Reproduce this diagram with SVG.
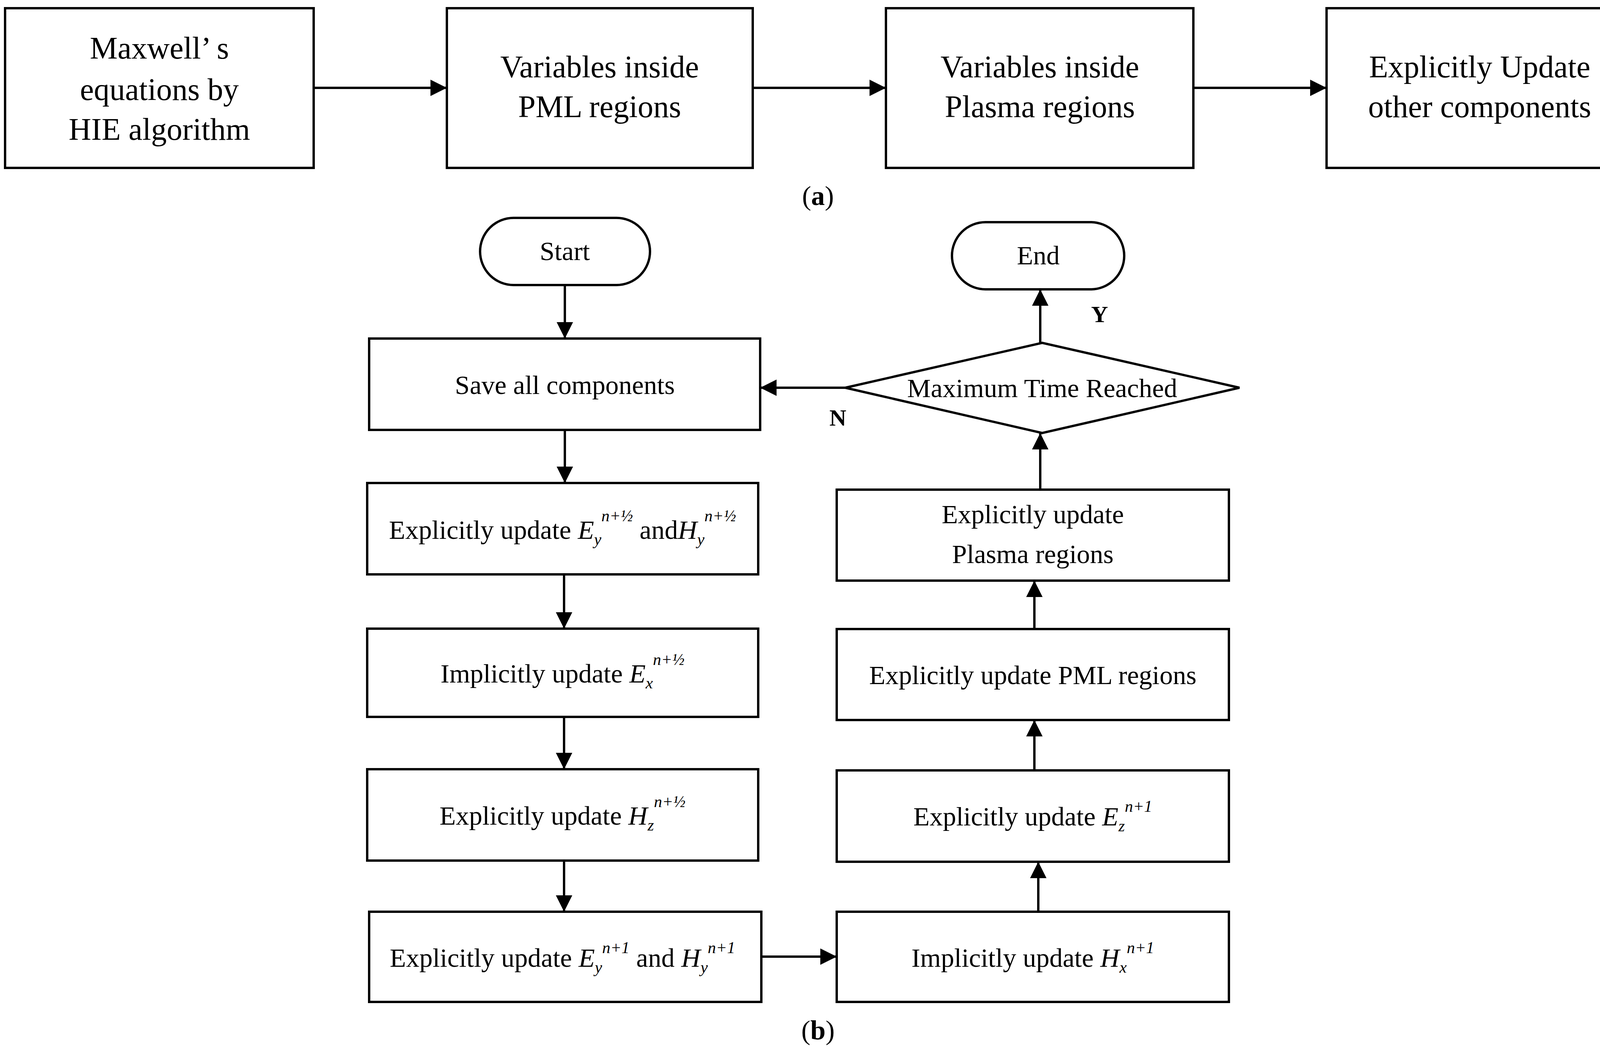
<svg xmlns="http://www.w3.org/2000/svg" width="4193" height="2684" viewBox="0 0 4193 2684">
<defs>
<marker id="a" viewBox="0 0 10 10" refX="10" refY="5" markerWidth="8" markerHeight="7" orient="auto"><path d="M0,0 L10,5 L0,10 z" fill="#000"/></marker>
</defs>
<style>
.b{fill:#fff;stroke:#000;stroke-width:6}
.t{font-family:"Liberation Serif",serif;fill:#000;text-anchor:middle}
.l{font-size:80px}
.s{font-size:68px}
.i{font-style:italic}
.sup{font-size:42px;font-style:italic}
.c{stroke:#000;stroke-width:6;fill:none;marker-end:url(#a)}
</style>
<rect width="4193" height="2684" fill="#fff"/>
<g id="a1"><rect class="b" x="13" y="21" width="790" height="409"/><text class="t l" x="408" y="150">Maxwell’ s</text><text class="t l" x="408" y="256">equations by</text><text class="t l" x="408" y="358">HIE algorithm</text></g>
<g id="a2"><rect class="b" x="1144" y="21" width="783" height="409"/><text class="t l" x="1535" y="198">Variables inside</text><text class="t l" x="1535" y="300">PML regions</text></g>
<g id="a3"><rect class="b" x="2268" y="21" width="787" height="409"/><text class="t l" x="2662" y="198">Variables inside</text><text class="t l" x="2662" y="300">Plasma regions</text></g>
<g id="a4"><rect class="b" x="3396" y="21" width="784" height="409"/><text class="t l" x="3788" y="198">Explicitly Update</text><text class="t l" x="3788" y="300">other components</text></g>
<text class="t" x="2094" y="525" font-size="70">(<tspan font-weight="bold">a</tspan>)</text>
<g id="start"><rect class="b" x="1229" y="558" width="435" height="172" rx="86"/><text class="t s" x="1446" y="666">Start</text></g>
<g id="end"><rect class="b" x="2437" y="569" width="441" height="172" rx="86"/><text class="t s" x="2658" y="677">End</text></g>
<g id="save"><rect class="b" x="945" y="867" width="1001" height="234"/><text class="t s" x="1446" y="1009">Save all components</text></g>
<g id="dec"><polygon class="b" points="2164,993 2668,878 3173,993 2668,1109"/><text class="t s" x="2668" y="1017">Maximum Time Reached</text></g>
<g id="b2"><rect class="b" x="940" y="1237" width="1001" height="234"/><text class="t s" x="1440" y="1380">Explicitly update <tspan class="i">E</tspan><tspan font-size="42" class="i" dy="15">y</tspan><tspan class="sup" dy="-60">n+½</tspan><tspan dy="45"> and</tspan><tspan class="i">H</tspan><tspan font-size="42" class="i" dy="15">y</tspan><tspan class="sup" dy="-60">n+½</tspan></text></g>
<g id="b3"><rect class="b" x="940" y="1610" width="1001" height="226"/><text class="t s" x="1440" y="1748">Implicitly update <tspan class="i">E</tspan><tspan font-size="42" class="i" dy="15">x</tspan><tspan class="sup" dy="-60">n+½</tspan></text></g>
<g id="b4"><rect class="b" x="940" y="1970" width="1001" height="234"/><text class="t s" x="1440" y="2112">Explicitly update <tspan class="i">H</tspan><tspan font-size="42" class="i" dy="15">z</tspan><tspan class="sup" dy="-60">n+½</tspan></text></g>
<g id="b5"><rect class="b" x="945" y="2335" width="1004" height="231"/><text class="t s" x="1440" y="2476">Explicitly update <tspan class="i">E</tspan><tspan font-size="42" class="i" dy="15">y</tspan><tspan class="sup" dy="-50">n+1</tspan><tspan dy="35"> and </tspan><tspan class="i">H</tspan><tspan font-size="42" class="i" dy="15">y</tspan><tspan class="sup" dy="-50">n+1</tspan></text></g>
<g id="r1"><rect class="b" x="2142" y="2335" width="1004" height="231"/><text class="t s" x="2644" y="2476">Implicitly update  <tspan class="i">H</tspan><tspan font-size="42" class="i" dy="15">x</tspan><tspan class="sup" dy="-50">n+1</tspan></text></g>
<g id="r2"><rect class="b" x="2142" y="1973" width="1004" height="234"/><text class="t s" x="2644" y="2114">Explicitly update  <tspan class="i">E</tspan><tspan font-size="42" class="i" dy="15">z</tspan><tspan class="sup" dy="-50">n+1</tspan></text></g>
<g id="r3"><rect class="b" x="2142" y="1611" width="1004" height="233"/><text class="t s" x="2644" y="1752">Explicitly update PML regions</text></g>
<g id="r4"><rect class="b" x="2142" y="1254" width="1004" height="233"/><text class="t s" x="2644" y="1340">Explicitly update</text><text class="t s" x="2644" y="1442">Plasma regions</text></g>
<g id="connectors">
<line class="c" x1="803" y1="225" x2="1144" y2="225"/>
<line class="c" x1="1927" y1="225" x2="2268" y2="225"/>
<line class="c" x1="3055" y1="225" x2="3396" y2="225"/>
<line class="c" x1="1446" y1="730" x2="1446" y2="867"/>
<line class="c" x1="1446" y1="1101" x2="1446" y2="1237"/>
<line class="c" x1="1444" y1="1471" x2="1444" y2="1610"/>
<line class="c" x1="1444" y1="1836" x2="1444" y2="1970"/>
<line class="c" x1="1444" y1="2204" x2="1444" y2="2335"/>
<line class="c" x1="1949" y1="2450" x2="2142" y2="2450"/>
<line class="c" x1="2658" y1="2335" x2="2658" y2="2207"/>
<line class="c" x1="2648" y1="1973" x2="2648" y2="1844"/>
<line class="c" x1="2648" y1="1611" x2="2648" y2="1487"/>
<line class="c" x1="2663" y1="1254" x2="2663" y2="1109"/>
<line class="c" x1="2663" y1="878" x2="2663" y2="741"/>
<line class="c" x1="2164" y1="993" x2="1946" y2="993"/>
</g>
<text class="t" x="2815" y="825" font-size="60" font-weight="bold">Y</text>
<text class="t" x="2145" y="1090" font-size="60" font-weight="bold">N</text>
<text class="t" x="2094" y="2662" font-size="70">(<tspan font-weight="bold">b</tspan>)</text>
</svg>
